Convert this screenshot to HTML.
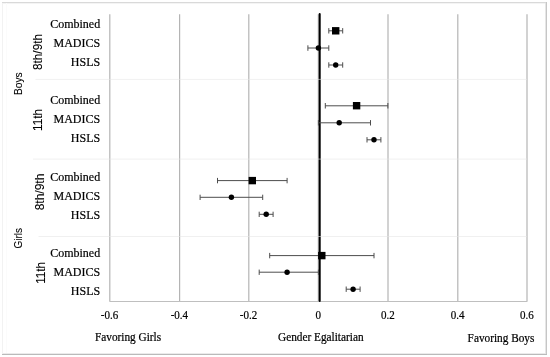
<!DOCTYPE html>
<html><head><meta charset="utf-8"><title>Gender forest plot</title>
<style>
html,body{margin:0;padding:0;background:#fff;}
body{width:550px;height:357px;overflow:hidden;}
svg{display:block;}
</style></head><body>
<svg width="550" height="357" viewBox="0 0 550 357">
<rect x="0" y="0" width="550" height="357" fill="#fff"/>
<rect x="2" y="2" width="544" height="1" fill="#d9d9d9"/>
<rect x="2" y="3" width="543" height="1" fill="#f4f4f4"/>
<rect x="2" y="3" width="1" height="351" fill="#f2f2f2"/>
<rect x="6" y="3" width="1" height="351" fill="#fbfbfb"/>
<rect x="546" y="2" width="1" height="353" fill="#c6c6c6"/>
<rect x="545" y="3" width="1" height="351" fill="#e6e6e6"/>
<rect x="2" y="354" width="545" height="1" fill="#bababa"/>
<rect x="3" y="353" width="542" height="1" fill="#ebebeb"/>
<g stroke="#b4b4b4" stroke-width="1.2">
<line x1="109.80" y1="14.2" x2="109.80" y2="301"/>
<line x1="179.60" y1="14.2" x2="179.60" y2="301"/>
<line x1="248.80" y1="14.2" x2="248.80" y2="301"/>
<line x1="318.35" y1="14.2" x2="318.35" y2="301"/>
<line x1="388.00" y1="14.2" x2="388.00" y2="301"/>
<line x1="457.80" y1="14.2" x2="457.80" y2="301"/>
<line x1="527.00" y1="14.2" x2="527.00" y2="301"/>
</g>
<line x1="109.3" y1="301.5" x2="527.5" y2="301.5" stroke="#bfbfbf" stroke-width="1"/>
<line x1="319.7" y1="14" x2="319.7" y2="301" stroke="#000" stroke-width="2" stroke-linecap="round"/>
<g stroke="#e4e4e4" stroke-opacity="0.56" stroke-width="1">
<line x1="35.5" y1="79.4" x2="527" y2="79.4"/>
<line x1="33" y1="159.1" x2="527" y2="159.1"/>
<line x1="38.5" y1="236.5" x2="527" y2="236.5"/>
</g>
<g stroke="#4d4d4d" stroke-width="1" fill="none">
<line x1="328.8" y1="30.8" x2="342.7" y2="30.8"/>
<line x1="328.8" y1="28.1" x2="328.8" y2="33.5"/>
<line x1="342.7" y1="28.1" x2="342.7" y2="33.5"/>
<line x1="307.9" y1="48.0" x2="328.8" y2="48.0"/>
<line x1="307.9" y1="45.3" x2="307.9" y2="50.8"/>
<line x1="328.8" y1="45.3" x2="328.8" y2="50.8"/>
<line x1="328.8" y1="65.0" x2="342.7" y2="65.0"/>
<line x1="328.8" y1="62.3" x2="328.8" y2="67.7"/>
<line x1="342.7" y1="62.3" x2="342.7" y2="67.7"/>
<line x1="325.3" y1="105.8" x2="387.9" y2="105.8"/>
<line x1="325.3" y1="103.0" x2="325.3" y2="108.5"/>
<line x1="387.9" y1="103.0" x2="387.9" y2="108.5"/>
<line x1="318.4" y1="122.8" x2="370.5" y2="122.8"/>
<line x1="318.4" y1="120.1" x2="318.4" y2="125.5"/>
<line x1="370.5" y1="120.1" x2="370.5" y2="125.5"/>
<line x1="367.0" y1="139.8" x2="380.9" y2="139.8"/>
<line x1="367.0" y1="137.1" x2="367.0" y2="142.5"/>
<line x1="380.9" y1="137.1" x2="380.9" y2="142.5"/>
<line x1="217.5" y1="180.6" x2="287.1" y2="180.6"/>
<line x1="217.5" y1="177.9" x2="217.5" y2="183.3"/>
<line x1="287.1" y1="177.9" x2="287.1" y2="183.3"/>
<line x1="200.1" y1="197.3" x2="262.7" y2="197.3"/>
<line x1="200.1" y1="194.7" x2="200.1" y2="200.0"/>
<line x1="262.7" y1="194.7" x2="262.7" y2="200.0"/>
<line x1="259.2" y1="214.3" x2="273.1" y2="214.3"/>
<line x1="259.2" y1="211.7" x2="259.2" y2="217.0"/>
<line x1="273.1" y1="211.7" x2="273.1" y2="217.0"/>
<line x1="269.7" y1="255.6" x2="374.0" y2="255.6"/>
<line x1="269.7" y1="252.9" x2="269.7" y2="258.3"/>
<line x1="374.0" y1="252.9" x2="374.0" y2="258.3"/>
<line x1="259.2" y1="272.2" x2="318.4" y2="272.2"/>
<line x1="259.2" y1="269.6" x2="259.2" y2="274.9"/>
<line x1="318.4" y1="269.6" x2="318.4" y2="274.9"/>
<line x1="346.2" y1="289.2" x2="360.1" y2="289.2"/>
<line x1="346.2" y1="286.5" x2="346.2" y2="291.9"/>
<line x1="360.1" y1="286.5" x2="360.1" y2="291.9"/>
</g>
<g fill="#000">
<rect x="332.0" y="27.1" width="7.4" height="7.4"/>
<circle cx="318.4" cy="48.0" r="2.7"/>
<circle cx="335.7" cy="65.0" r="2.7"/>
<rect x="352.9" y="102.0" width="7.4" height="7.4"/>
<circle cx="339.2" cy="122.8" r="2.7"/>
<circle cx="374.0" cy="139.8" r="2.7"/>
<rect x="248.6" y="176.9" width="7.4" height="7.4"/>
<circle cx="231.4" cy="197.3" r="2.7"/>
<circle cx="266.2" cy="214.3" r="2.7"/>
<rect x="318.1" y="251.9" width="7.4" height="7.4"/>
<circle cx="287.1" cy="272.2" r="2.7"/>
<circle cx="353.1" cy="289.2" r="2.7"/>
</g>
<g font-family="Liberation Serif, serif" font-size="12" fill="#000" stroke="#000" stroke-width="0.2" text-anchor="end">
<text x="100.2" y="27.6">Combined</text>
<text x="100.2" y="46.6">MADICS</text>
<text x="100.2" y="65.6">HSLS</text>
<text x="100.2" y="104.1">Combined</text>
<text x="100.2" y="123.1">MADICS</text>
<text x="100.2" y="142.1">HSLS</text>
<text x="100.2" y="180.6">Combined</text>
<text x="100.2" y="199.6">MADICS</text>
<text x="100.2" y="218.6">HSLS</text>
<text x="100.2" y="257.1">Combined</text>
<text x="100.2" y="276.1">MADICS</text>
<text x="100.2" y="295.1">HSLS</text>
</g>
<g font-family="Liberation Sans, sans-serif" fill="#000" stroke="#000" stroke-width="0.08" text-anchor="middle">
<text transform="translate(41.9 52.0) rotate(-90) scale(0.98 1)" font-size="12">8th/9th</text>
<text transform="translate(42.2 120.0) rotate(-90) scale(0.97 1)" font-size="12">11th</text>
<text transform="translate(44.4 192.0) rotate(-90) scale(1.0 1)" font-size="12">8th/9th</text>
<text transform="translate(45.4 272.9) rotate(-90) scale(0.97 1)" font-size="12">11th</text>
<text transform="translate(22.0 83.7) rotate(-90)" font-size="10.2">Boys</text>
<text transform="translate(21.5 238.3) rotate(-90)" font-size="10">Girls</text>
</g>
<g font-family="Liberation Serif, serif" font-size="12" fill="#000" stroke="#000" stroke-width="0.2" text-anchor="middle">
<text transform="translate(109.6 318.9) scale(0.92 1.03)">-0.6</text>
<text transform="translate(179.4 318.9) scale(0.92 1.03)">-0.4</text>
<text transform="translate(248.6 318.9) scale(0.92 1.03)">-0.2</text>
<text transform="translate(318.2 318.9) scale(0.92 1.03)">0</text>
<text transform="translate(387.8 318.9) scale(0.92 1.03)">0.2</text>
<text transform="translate(457.6 318.9) scale(0.92 1.03)">0.4</text>
<text transform="translate(526.8 318.9) scale(0.92 1.03)">0.6</text>
</g>
<g font-family="Liberation Serif, serif" font-size="11.3" fill="#000" stroke="#000" stroke-width="0.2">
<text transform="translate(95 341.3) scale(1 1.18)">Favoring Girls</text>
<text transform="translate(278 340.9) scale(1 1.18)">Gender Egalitarian</text>
<text transform="translate(467.6 342.0) scale(1 1.18)">Favoring Boys</text>
</g>
</svg>
</body></html>
